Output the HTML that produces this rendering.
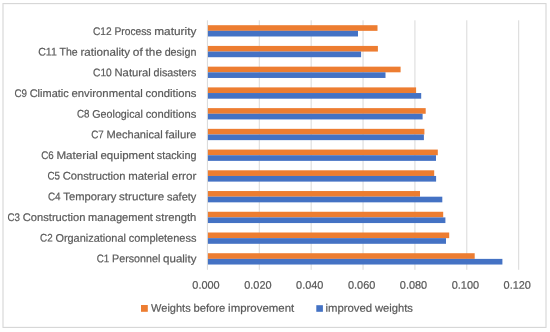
<!DOCTYPE html>
<html><head><meta charset="utf-8"><title>Weights chart</title><style>
html,body{margin:0;padding:0;background:#fff;}
svg{display:block;}
text{font-family:"Liberation Sans",Arial,sans-serif;font-size:11.0px;fill:#595959;stroke:#595959;stroke-width:0.2px;}
</style></head><body>
<svg width="550" height="332" viewBox="0 0 550 332">
<rect x="3.0" y="3.6" width="543" height="323.8" fill="#fff" stroke="#d6d6d6" stroke-width="1.1"/>
<rect x="258.78" y="20.30" width="1" height="249.50" fill="#d9d9d9"/>
<rect x="310.66" y="20.30" width="1" height="249.50" fill="#d9d9d9"/>
<rect x="362.54" y="20.30" width="1" height="249.50" fill="#d9d9d9"/>
<rect x="414.42" y="20.30" width="1" height="249.50" fill="#d9d9d9"/>
<rect x="466.30" y="20.30" width="1" height="249.50" fill="#d9d9d9"/>
<rect x="518.18" y="20.30" width="1" height="249.50" fill="#d9d9d9"/>
<rect x="207.4" y="25.20" width="170.10" height="5.65" fill="#ed7d31"/>
<rect x="207.4" y="30.84" width="150.60" height="5.65" fill="#4472c4"/>
<rect x="207.4" y="45.92" width="170.50" height="5.65" fill="#ed7d31"/>
<rect x="207.4" y="51.57" width="153.70" height="5.65" fill="#4472c4"/>
<rect x="207.4" y="66.66" width="193.20" height="5.65" fill="#ed7d31"/>
<rect x="207.4" y="72.31" width="178.10" height="5.65" fill="#4472c4"/>
<rect x="207.4" y="87.39" width="208.70" height="5.65" fill="#ed7d31"/>
<rect x="207.4" y="93.04" width="213.80" height="5.65" fill="#4472c4"/>
<rect x="207.4" y="108.12" width="218.30" height="5.65" fill="#ed7d31"/>
<rect x="207.4" y="113.77" width="215.20" height="5.65" fill="#4472c4"/>
<rect x="207.4" y="128.84" width="217.00" height="5.65" fill="#ed7d31"/>
<rect x="207.4" y="134.50" width="216.50" height="5.65" fill="#4472c4"/>
<rect x="207.4" y="149.57" width="230.40" height="5.65" fill="#ed7d31"/>
<rect x="207.4" y="155.22" width="228.60" height="5.65" fill="#4472c4"/>
<rect x="207.4" y="170.31" width="226.80" height="5.65" fill="#ed7d31"/>
<rect x="207.4" y="175.96" width="228.70" height="5.65" fill="#4472c4"/>
<rect x="207.4" y="191.03" width="212.60" height="5.65" fill="#ed7d31"/>
<rect x="207.4" y="196.69" width="234.90" height="5.65" fill="#4472c4"/>
<rect x="207.4" y="211.76" width="235.80" height="5.65" fill="#ed7d31"/>
<rect x="207.4" y="217.41" width="238.00" height="5.65" fill="#4472c4"/>
<rect x="207.4" y="232.50" width="241.80" height="5.65" fill="#ed7d31"/>
<rect x="207.4" y="238.15" width="238.60" height="5.65" fill="#4472c4"/>
<rect x="207.4" y="253.22" width="267.30" height="5.65" fill="#ed7d31"/>
<rect x="207.4" y="258.88" width="295.00" height="5.65" fill="#4472c4"/>
<rect x="206.90" y="20.30" width="1" height="249.50" fill="#d9d9d9"/>
<text y="34.87" transform="skewY(0.05)"><tspan x="93.02" textLength="18.65" lengthAdjust="spacingAndGlyphs">C12</tspan> <tspan x="114.40" textLength="37.13" lengthAdjust="spacingAndGlyphs">Process</tspan> <tspan x="154.26" textLength="42.14" lengthAdjust="spacingAndGlyphs">maturity</tspan></text>
<text y="55.57" transform="skewY(0.05)"><tspan x="38.19" textLength="18.61" lengthAdjust="spacingAndGlyphs">C11</tspan> <tspan x="59.52" textLength="18.17" lengthAdjust="spacingAndGlyphs">The</tspan> <tspan x="80.41" textLength="49.73" lengthAdjust="spacingAndGlyphs">rationality</tspan> <tspan x="132.85" textLength="10.02" lengthAdjust="spacingAndGlyphs">of</tspan> <tspan x="145.59" textLength="16.34" lengthAdjust="spacingAndGlyphs">the</tspan> <tspan x="164.64" textLength="31.76" lengthAdjust="spacingAndGlyphs">design</tspan></text>
<text y="76.21" transform="skewY(0.05)"><tspan x="93.07" textLength="18.67" lengthAdjust="spacingAndGlyphs">C10</tspan> <tspan x="114.47" textLength="36.36" lengthAdjust="spacingAndGlyphs">Natural</tspan> <tspan x="153.56" textLength="42.84" lengthAdjust="spacingAndGlyphs">disasters</tspan></text>
<text y="96.91" transform="skewY(0.05)"><tspan x="14.42" textLength="12.54" lengthAdjust="spacingAndGlyphs">C9</tspan> <tspan x="29.68" textLength="39.06" lengthAdjust="spacingAndGlyphs">Climatic</tspan> <tspan x="71.46" textLength="71.31" lengthAdjust="spacingAndGlyphs">environmental</tspan> <tspan x="145.50" textLength="50.90" lengthAdjust="spacingAndGlyphs">conditions</tspan></text>
<text y="117.55" transform="skewY(0.05)"><tspan x="76.99" textLength="12.48" lengthAdjust="spacingAndGlyphs">C8</tspan> <tspan x="92.18" textLength="50.83" lengthAdjust="spacingAndGlyphs">Geological</tspan> <tspan x="145.72" textLength="50.68" lengthAdjust="spacingAndGlyphs">conditions</tspan></text>
<text y="138.21" transform="skewY(0.05)"><tspan x="91.31" textLength="12.52" lengthAdjust="spacingAndGlyphs">C7</tspan> <tspan x="106.55" textLength="56.05" lengthAdjust="spacingAndGlyphs">Mechanical</tspan> <tspan x="165.33" textLength="31.07" lengthAdjust="spacingAndGlyphs">failure</tspan></text>
<text y="158.90" transform="skewY(0.05)"><tspan x="41.16" textLength="12.53" lengthAdjust="spacingAndGlyphs">C6</tspan> <tspan x="56.41" textLength="41.36" lengthAdjust="spacingAndGlyphs">Material</tspan> <tspan x="100.49" textLength="53.62" lengthAdjust="spacingAndGlyphs">equipment</tspan> <tspan x="156.83" textLength="39.57" lengthAdjust="spacingAndGlyphs">stacking</tspan></text>
<text y="179.57" transform="skewY(0.05)"><tspan x="47.51" textLength="12.53" lengthAdjust="spacingAndGlyphs">C5</tspan> <tspan x="62.77" textLength="62.74" lengthAdjust="spacingAndGlyphs">Construction</tspan> <tspan x="128.23" textLength="40.69" lengthAdjust="spacingAndGlyphs">material</tspan> <tspan x="171.65" textLength="24.76" lengthAdjust="spacingAndGlyphs">error</tspan></text>
<text y="200.24" transform="skewY(0.05)"><tspan x="47.89" textLength="12.65" lengthAdjust="spacingAndGlyphs">C4</tspan> <tspan x="63.29" textLength="53.05" lengthAdjust="spacingAndGlyphs">Temporary</tspan> <tspan x="119.09" textLength="45.07" lengthAdjust="spacingAndGlyphs">structure</tspan> <tspan x="166.92" textLength="29.49" lengthAdjust="spacingAndGlyphs">safety</tspan></text>
<text y="220.92" transform="skewY(0.05)"><tspan x="7.54" textLength="12.51" lengthAdjust="spacingAndGlyphs">C3</tspan> <tspan x="22.77" textLength="62.62" lengthAdjust="spacingAndGlyphs">Construction</tspan> <tspan x="88.11" textLength="64.81" lengthAdjust="spacingAndGlyphs">management</tspan> <tspan x="155.64" textLength="40.76" lengthAdjust="spacingAndGlyphs">strength</tspan></text>
<text y="241.58" transform="skewY(0.05)"><tspan x="40.12" textLength="12.55" lengthAdjust="spacingAndGlyphs">C2</tspan> <tspan x="55.39" textLength="70.56" lengthAdjust="spacingAndGlyphs">Organizational</tspan> <tspan x="128.68" textLength="67.73" lengthAdjust="spacingAndGlyphs">completeness</tspan></text>
<text y="262.22" transform="skewY(0.05)"><tspan x="96.81" textLength="12.49" lengthAdjust="spacingAndGlyphs">C1</tspan> <tspan x="112.02" textLength="48.31" lengthAdjust="spacingAndGlyphs">Personnel</tspan> <tspan x="163.05" textLength="33.35" lengthAdjust="spacingAndGlyphs">quality</tspan></text>
<text y="288.62" transform="skewY(0.05)"><tspan x="192.32" textLength="27.36" lengthAdjust="spacingAndGlyphs">0.000</tspan></text>
<text y="288.57" transform="skewY(0.05)"><tspan x="244.20" textLength="27.36" lengthAdjust="spacingAndGlyphs">0.020</tspan></text>
<text y="288.53" transform="skewY(0.05)"><tspan x="296.08" textLength="27.36" lengthAdjust="spacingAndGlyphs">0.040</tspan></text>
<text y="288.48" transform="skewY(0.05)"><tspan x="347.96" textLength="27.36" lengthAdjust="spacingAndGlyphs">0.060</tspan></text>
<text y="288.44" transform="skewY(0.05)"><tspan x="399.84" textLength="27.36" lengthAdjust="spacingAndGlyphs">0.080</tspan></text>
<text y="288.39" transform="skewY(0.05)"><tspan x="451.72" textLength="27.36" lengthAdjust="spacingAndGlyphs">0.100</tspan></text>
<text y="288.35" transform="skewY(0.05)"><tspan x="503.60" textLength="27.36" lengthAdjust="spacingAndGlyphs">0.120</tspan></text>
<rect x="141" y="305" width="6.8" height="6.8" fill="#ed7d31"/>
<text y="311.61" transform="skewY(0.05)"><tspan x="151.10" textLength="39.59" lengthAdjust="spacingAndGlyphs">Weights</tspan> <tspan x="193.41" textLength="31.97" lengthAdjust="spacingAndGlyphs">before</tspan> <tspan x="228.10" textLength="66.08" lengthAdjust="spacingAndGlyphs">improvement</tspan></text>
<rect x="316.3" y="305.2" width="6.6" height="6.6" fill="#4472c4"/>
<text y="311.48" transform="skewY(0.05)"><tspan x="325.40" textLength="46.78" lengthAdjust="spacingAndGlyphs">improved</tspan> <tspan x="374.91" textLength="37.99" lengthAdjust="spacingAndGlyphs">weights</tspan></text>
</svg>
</body></html>
